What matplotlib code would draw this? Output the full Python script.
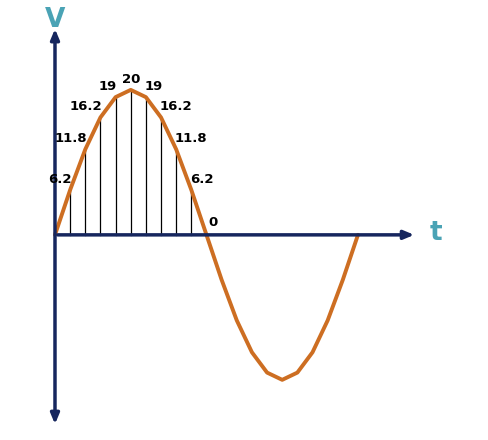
import matplotlib
matplotlib.use("Agg")
import matplotlib.pyplot as plt

# sample index (one step = one vertical line) and voltage values
steps = list(range(21))
volts = [0, 6.2, 11.8, 16.2, 19, 20, 19, 16.2, 11.8, 6.2, 0,
         -6.2, -11.8, -16.2, -19, -20, -19, -16.2, -11.8, -6.2, 0]
bar_steps = list(range(1, 10))
bar_labels = ["6.2", "11.8", "16.2", "19", "20", "19", "16.2", "11.8", "6.2"]

navy = "#16265e"
teal = "#4aa3b5"
orange = "#cd6e22"

fig = plt.figure(figsize=(4.89, 4.40), dpi=100)
ax = fig.add_axes([0, 0, 1, 1])
ax.set_xlim(-3.63, 28.65)
ax.set_ylim(-28.3, 32.4)
ax.axis("off")

# vertical strips under the positive half
for s in bar_steps:
    ax.plot([s, s], [0, volts[s]], color="black", lw=0.9, zorder=1)

ax.plot(steps, volts, color=orange, lw=2.8, solid_capstyle="round", zorder=3)

# axes arrows
ax.annotate("", xy=(0, 28.8), xytext=(0, -26.5),
            arrowprops=dict(arrowstyle="<|-|>,head_length=0.6,head_width=0.25", color=navy, lw=2.5))
ax.annotate("", xy=(23.9, 0), xytext=(0, 0),
            arrowprops=dict(arrowstyle="-|>,head_length=0.6,head_width=0.25", color=navy, lw=2.5))
ax.text(0, 29.6, "V", color=teal, fontsize=19, fontweight="bold", ha="center", va="center", zorder=5)
ax.text(24.7, 0.3, "t", color=teal, fontsize=19, fontweight="bold", ha="left", va="center")

# value labels
for s, lab in zip(bar_steps, bar_labels):
    v = volts[s]
    if s < 5:
        ax.text(s + 0.1, v + 0.6, lab, ha="right", va="bottom", fontsize=9.5, fontweight="bold")
    elif s == 5:
        ax.text(s, v + 0.6, lab, ha="center", va="bottom", fontsize=9.5, fontweight="bold")
    else:
        ax.text(s - 0.1, v + 0.6, lab, ha="left", va="bottom", fontsize=9.5, fontweight="bold")
ax.text(10.1, 0.8, "0", ha="left", va="bottom", fontsize=9.5, fontweight="bold")

fig.savefig("out.png", dpi=100)
